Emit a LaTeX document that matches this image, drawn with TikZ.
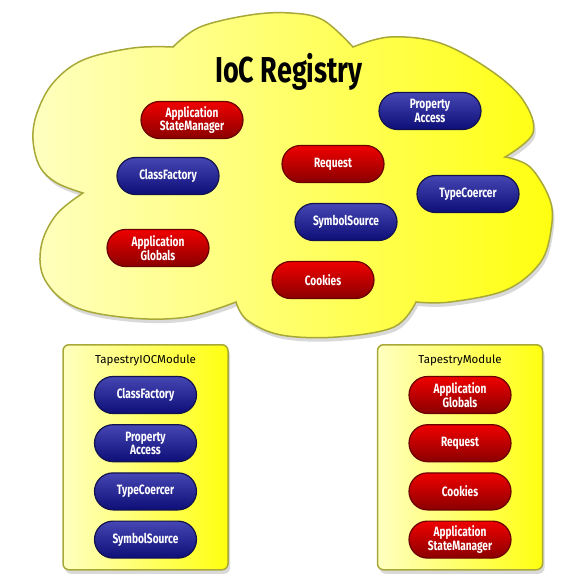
\documentclass[tikz,border=0pt]{standalone}
\usepackage{fontspec}
\usepackage{tikz}
\usetikzlibrary{positioning,shadows,shapes.misc}
\newfontfamily\pillfont[FakeStretch=0.75]{Fira Sans}
\newfontfamily\boxfont{Fira Sans}
\definecolor{yellowlight}{HTML}{FFFFC0}
\definecolor{yellowdeep}{HTML}{FFFF10}
\definecolor{yellowedge}{HTML}{A8A838}
\definecolor{redtop}{HTML}{F00000}
\definecolor{redbottom}{HTML}{8A0000}
\definecolor{rededge}{HTML}{6A0000}
\definecolor{bluetop}{HTML}{4646B4}
\definecolor{bluebottom}{HTML}{0E0E78}
\definecolor{blueedge}{HTML}{12124E}

\tikzset{
  yellowarea/.style={draw=yellowedge, line width=1.5pt, left color=yellowlight,
    right color=yellowdeep, drop shadow={shadow xshift=2pt, shadow yshift=-4pt, opacity=0.3}},
  pill/.style={rounded rectangle, minimum width=106pt, minimum height=37pt, inner sep=2pt,
    line width=1.2pt, text=white, align=center,
    font=\pillfont\bfseries\fontsize{13.5}{13.5}\selectfont},
  redpill/.style={pill, draw=rededge, top color=redtop, bottom color=redbottom},
  bluepill/.style={pill, draw=blueedge, top color=bluetop, bottom color=bluebottom},
  modbox/.style={yellowarea, rounded corners=6pt, minimum width=165pt, minimum height=225pt,
    anchor=north, inner sep=0pt},
  modtitle/.style={font=\boxfont\fontsize{11.5}{12}\selectfont}
}

\begin{document}
\begin{tikzpicture}[x=1pt,y=-1pt]
\useasboundingbox (0,0) rectangle (582,583);

% the registry cloud
\path[yellowarea]
  plot[smooth,tension=0.6] coordinates {(83,193) (57,183) (40,167) (33,140) (37,113) (53,83) (83,60) (133,48) (173,47)}
  -- plot[smooth,tension=0.6] coordinates {(173,47) (200,27) (250,15) (290,13) (323,20) (353,47)}
  -- plot[smooth,tension=0.6] coordinates {(353,47) (390,37) (440,43) (490,70) (523,100) (533,133) (505,157)}
  -- plot[smooth,tension=0.6] coordinates {(505,157) (530,167) (550,200) (551,230) (540,263) (506,290) (450,302) (416,302)}
  -- plot[smooth,tension=0.6] coordinates {(416,302) (394,327) (337,337) (281,335) (247,320) (236,302)}
  -- plot[smooth,tension=0.6] coordinates {(236,302) (187,317) (131,318) (75,307) (45,280) (41,247) (56,215) (83,193)}
  -- cycle;
\node[font=\pillfont\bfseries\fontsize{36}{36}\selectfont] (registry) at (289,72) {IoC Registry};

\node[redpill] (regasm) at (192,120) {Application\\StateManager};
\node[bluepill] (regcf) at (168,176) {ClassFactory};
\node[redpill] (regag) at (158,248) {Application\\Globals};
\node[redpill] (regreq) at (333,164) {Request};
\node[bluepill] (regpa) at (430,111) {Property\\Access};
\node[bluepill] (regtc) at (468,194) {TypeCoercer};
\node[bluepill] (regss) at (346,222) {SymbolSource};
\node[redpill] (regck) at (323,280) {Cookies};

% the two modules
\node[modbox] (iocmod) at (145.5,344) {};
\node[modtitle] (ioctitle) at ([yshift=-16pt]iocmod.north) {TapestryIOCModule};
\node[bluepill] (ioccf) at ([yshift=-51pt]iocmod.north) {ClassFactory};
\node[bluepill, below=10pt of ioccf] (iocpa) {Property\\Access};
\node[bluepill, below=10pt of iocpa] (ioctc) {TypeCoercer};
\node[bluepill, below=10pt of ioctc] (iocss) {SymbolSource};

\node[modbox] (tapmod) at (460,344) {};
\node[modtitle] (taptitle) at ([yshift=-16pt]tapmod.north) {TapestryModule};
\node[redpill] (tapag) at ([yshift=-51pt]tapmod.north) {Application\\Globals};
\node[redpill, below=10pt of tapag] (tapreq) {Request};
\node[redpill, below=10pt of tapreq] (tapck) {Cookies};
\node[redpill, below=10pt of tapck] (tapasm) {Application\\StateManager};
\end{tikzpicture}
\end{document}
